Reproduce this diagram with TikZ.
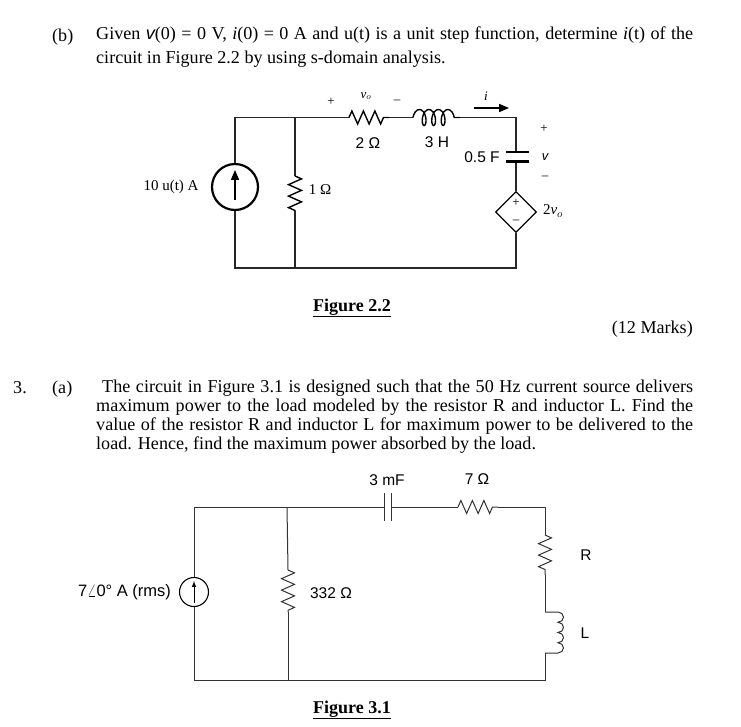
\documentclass[tikz,border=0pt]{standalone}
\usepackage{fontspec}
\setmainfont{Liberation Serif}
\newfontfamily\arialfont{Liberation Sans}
\usetikzlibrary{positioning,arrows,shapes,decorations.pathmorphing}
\tikzstyle{para}=[anchor=north west, inner sep=0pt, align=justify, font=\fontsize{18.1}{18.9}\selectfont]
\tikzstyle{plain}=[inner sep=0pt, font=\fontsize{15}{18}\selectfont]
\tikzstyle{bodytxt}=[inner sep=0pt, font=\fontsize{18.1}{18}\selectfont]
\tikzstyle{sans}=[inner sep=0pt, font=\arialfont\fontsize{15.5}{16}\selectfont]
\tikzstyle{small}=[inner sep=0pt, font=\fontsize{13}{14}\selectfont]
\tikzstyle{capt}=[inner sep=0pt, font=\bfseries\fontsize{18}{20}\selectfont]
\tikzstyle{wire}=[-, line width=1.9pt, black!85!white]
\tikzstyle{thin wire}=[-, line width=1pt, black!80!white]
\tikzstyle{res}=[decorate, decoration={zigzag, segment length=11.5pt, amplitude=6.5pt}]
\tikzstyle{ind}=[decorate, decoration={coil, segment length=9.5pt, amplitude=8pt, aspect=0.5}]
\tikzstyle{source}=[circle, draw, inner sep=0pt]
\tikzstyle{dep}=[diamond, draw, line width=1.2pt, minimum width=41pt, minimum height=41pt, inner sep=0pt]
\newcommand{\sansv}{{\arialfont\itshape v}}

\begin{document}
\begin{tikzpicture}[x=1pt, y=-1pt]
\useasboundingbox (0,0) rectangle (741,726);

%  TEXT
\node (blabel) [bodytxt, anchor=base west] at (52,41) {(b)};
\node (btext) [para, text width=597pt, font=\fontsize{18.1}{24}\selectfont] at (96,27) {Given \sansv(0) = 0 V, \textit{i}(0) = 0 A and u(t) is a unit step function, determine \textit{i}(t) of the\linebreak circuit in Figure 2.2 by using s-domain analysis.};
\node (marks) [bodytxt, anchor=east] at (693,329) {(12 Marks)};
\node (qnum) [bodytxt, anchor=base west] at (13,393) {3.};
\node (alabel) [bodytxt, anchor=base west] at (52,393) {(a)};
\node (atext) [para, text width=597pt] at (96,380) {\hspace*{6pt}The circuit in Figure 3.1 is designed such that the 50 Hz current source delivers\linebreak maximum power to the load modeled by the resistor R and inductor L. Find the\linebreak value of the resistor R and inductor L for maximum power to be delivered to the\linebreak load. Hence, find the maximum power absorbed by the load.};

%  FIGURE 2.2
\coordinate (tl) at (235,117.5);
\coordinate (tm) at (295,117.5);
\coordinate (tr) at (516,117.5);
\coordinate (bl) at (235,268);
\coordinate (bm) at (295,268);
\coordinate (br) at (516,268);
\node (isrc) [source, line width=2.2pt, minimum size=46pt] at (235,187) {};
\coordinate (arrb) at (235,200);
\coordinate (arrt) at (235,170);
\coordinate (ronea) at (295,176);
\coordinate (roneb) at (295,211);
\coordinate (rtwoa) at (349,117.5);
\coordinate (rtwob) at (389,117.5);
\coordinate (ia) at (413,117.5);
\coordinate (ib) at (460,117.5);
\coordinate (capa) at (516,152);
\coordinate (capb) at (516,161.5);
\coordinate (pla) at (506,152);
\coordinate (plb) at (529,152);
\coordinate (plc) at (506,161.5);
\coordinate (pld) at (529,161.5);
\node (vsrc) [dep] at (516,212) {};
\node (vplus) [small] at (516,203) {+};
\node (vminus) [small] at (516,221.5) {--};
\coordinate (cura) at (474,108);
\coordinate (curb) at (509,108);

\draw[wire] (rtwob) -- (ia);
\draw[wire] (ib) -- (tr) -- (capa);
\draw[wire] (rtwoa) -- (tl) -- (isrc.north);
\draw[wire] (isrc.south) -- (bl) -- (br) -- (vsrc.south);
\draw[wire] (tm) -- (ronea);
\draw[wire] (roneb) -- (bm);
\draw[wire] (capb) -- (vsrc.north);
\draw[line width=1.4pt, res] (ronea) -- (roneb);
\draw[line width=1.4pt, res] (rtwoa) -- (rtwob);
\draw[line width=1.4pt, ind] (ia) -- (ib);
\draw[line width=2.6pt] (pla) -- (plb);
\draw[line width=2.6pt] (plc) -- (pld);
\draw[-triangle 45, line width=1.3pt] (arrb) -- (arrt);
\draw[-triangle 45, line width=1.3pt] (cura) -- (curb);

\node (srclab) [plain] at (171,187) {10 u(t) A};
\node (ronelab) [plain] at (320,190) {1 Ω};
\node (rtwolab) [sans] at (368,143) {2 Ω};
\node (ilab) [sans] at (437,142) {3 H};
\node (clab) [sans] at (482,157) {0.5 F};
\node (vop) [small] at (331,102) {+};
\node (volab) [small, font=\itshape\fontsize{13}{14}\selectfont] at (366,96) {v$_o$};
\node (vom) [small] at (397,102) {--};
\node (curlab) [small, font=\itshape\fontsize{13}{14}\selectfont] at (486,96) {i};
\node (vp) [small] at (544,129) {+};
\node (vlab) [small, font=\itshape\arialfont\fontsize{13}{14}\selectfont] at (545,157) {v};
\node (vm) [small] at (545,178) {--};
\node (deplab) [plain] at (553,211) {2\textit{v$_o$}};
\node (figa) [capt] at (352,308) {\underline{Figure 2.2}};

%  FIGURE 3.1
\coordinate (stl) at (194,507);
\coordinate (stm) at (287,507);
\coordinate (str) at (545,507);
\coordinate (sbl) at (194,680);
\coordinate (sbm) at (288,680);
\coordinate (sbr) at (545,680);
\node (asrc) [source, line width=1.1pt, minimum size=29pt] at (194,592) {};
\coordinate (sarrb) at (194,603);
\coordinate (sarrt) at (194,581);
\coordinate (shunta) at (288,570);
\coordinate (shuntb) at (288,612);
\coordinate (cl) at (384,507);
\coordinate (cr) at (391,507);
\coordinate (cla) at (384,493);
\coordinate (clb) at (384,521);
\coordinate (cra) at (391,493);
\coordinate (crb) at (391,521);
\coordinate (rsa) at (458,507);
\coordinate (rsb) at (498,507);
\coordinate (ra) at (545,535);
\coordinate (rb) at (545,575);
\coordinate (la) at (545,612);
\coordinate (lb) at (545,653);
\coordinate (huma) at (558,612);

\draw[thin wire] (asrc.north) -- (stl) -- (cl);
\draw[thin wire] (cr) -- (rsa);
\draw[thin wire] (rsb) -- (str) -- (ra);
\draw[thin wire] (rb) -- (la);
\draw[thin wire] (lb) -- (sbr) -- (sbl) -- (asrc.south);
\draw[thin wire] (stm) -- (shunta);
\draw[thin wire] (shuntb) -- (sbm);
\draw[thin wire] (cla) -- (clb);
\draw[thin wire] (cra) -- (crb);
\draw[thin wire, res] (shunta) -- (shuntb);
\draw[thin wire, res] (rsa) -- (rsb);
\draw[thin wire, res] (ra) -- (rb);
\draw[thin wire] (la) -- (huma) \foreach \n in {1,...,4} { arc[start angle=-90, end angle=90, x radius=5.5, y radius=5.125] } -- (lb);
\draw[-latex, line width=1pt] (sarrb) -- (sarrt);

\node (alab) [sans, font=\arialfont\fontsize{16.5}{16}\selectfont] at (124.5,592) {7$\angle$0\textdegree\ A (rms)};
\node (shuntlab) [sans] at (331,593) {332 Ω};
\node (clabb) [sans] at (387,480) {3 mF};
\node (rslab) [sans] at (477,479) {7 Ω};
\node (rlab) [sans] at (586,555) {R};
\node (llab) [sans] at (585,633) {L};
\node (figb) [capt] at (352,710) {\underline{Figure 3.1}};

\end{tikzpicture}
\end{document}
